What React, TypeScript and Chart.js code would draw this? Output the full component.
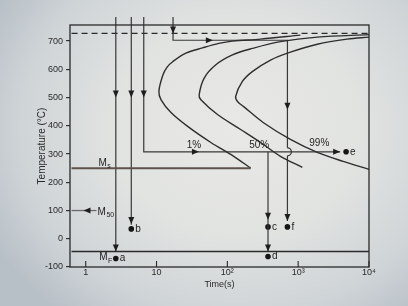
import React, { useEffect, useRef } from "react";
import { Chart, registerables } from "chart.js";

Chart.register(...registerables);

// ---- axis ranges & ticks ----
const X_MIN = 0.631;
const X_MAX = 10000;
const Y_MIN = -100;
const Y_MAX = 757;
const xTickValues = [1, 10, 100, 1000, 10000];
const xTickLabels = ["1", "10", "10²", "10³", "10⁴"];
const yTickValues = [-100, 0, 100, 200, 300, 400, 500, 600, 700];

// ---- transformation curves (time s, temperature °C) ----
const curve1Pct = [
  { x: 1074, y: 721 }, { x: 294, y: 707 }, { x: 118, y: 700 }, { x: 75.7, y: 692 },
  { x: 44.7, y: 676 }, { x: 26, y: 657 }, { x: 16.9, y: 627 }, { x: 14.1, y: 608 },
  { x: 12.3, y: 580 }, { x: 10.8, y: 522 }, { x: 11.6, y: 492 }, { x: 16, y: 447 },
  { x: 27.8, y: 397 }, { x: 58.5, y: 341 }, { x: 123, y: 292 }, { x: 213, y: 250 },
];
const curve50Pct = [
  { x: 10000, y: 723 }, { x: 1862, y: 714 }, { x: 562, y: 698 }, { x: 225, y: 674 },
  { x: 118, y: 651 }, { x: 68.8, y: 616 }, { x: 47.1, y: 569 }, { x: 40, y: 510 },
  { x: 42.3, y: 492 }, { x: 72.6, y: 440 }, { x: 154, y: 387 }, { x: 294, y: 341 },
  { x: 562, y: 292 }, { x: 1145, y: 253 },
];
const curve99Pct = [
  { x: 10000, y: 714 }, { x: 4910, y: 707 }, { x: 1862, y: 689 }, { x: 777, y: 661 },
  { x: 407, y: 633 }, { x: 225, y: 592 }, { x: 163, y: 557 }, { x: 131, y: 504 },
  { x: 140, y: 485 }, { x: 170, y: 468 }, { x: 324, y: 411 }, { x: 777, y: 352 },
  { x: 1862, y: 306 }, { x: 4315, y: 274 }, { x: 10000, y: 246 },
];

// ---- reference temperatures ----
const eutectoidTemp = 727;
const msTemp = 250;
const msEndTime = 213;
const mfTemp = -45;
const m50Temp = 100;
const m50EndTime = 1.42;

// ---- cooling paths ----
const pathA = [{ x: 2.66, y: 785 }, { x: 2.66, y: -45 }];
const pathB = [{ x: 4.4, y: 785 }, { x: 4.4, y: 50 }];
const pathE = [{ x: 6.6, y: 785 }, { x: 6.6, y: 308 }, { x: 3914, y: 308 }];
const pathCD = [{ x: 375, y: 308 }, { x: 375, y: -45 }];
const pathF = [
  { x: 17.1, y: 785 }, { x: 17.1, y: 703 }, { x: 705, y: 703 }, { x: 705, y: 322 },
  { x: 705, y: null }, { x: 705, y: 294 }, { x: 705, y: 63 },
];
const hops = [{ x: 705, y: 308 }];

const arrows = [
  { x: 2.66, y: 500, dir: "down" }, { x: 2.66, y: -45, dir: "down" },
  { x: 4.4, y: 500, dir: "down" }, { x: 4.4, y: 52, dir: "down" },
  { x: 6.6, y: 500, dir: "down" }, { x: 39.7, y: 308, dir: "right" },
  { x: 3914, y: 308, dir: "right" }, { x: 375, y: 67, dir: "down" },
  { x: 375, y: -45, dir: "down" }, { x: 17.1, y: 727, dir: "down" },
  { x: 62.4, y: 703, dir: "right" }, { x: 705, y: 457, dir: "down" },
  { x: 705, y: 63, dir: "down" }, { x: 0.93, y: 100, dir: "left" },
];

const endPoints = [
  { x: 2.66, y: -70, label: "a" }, { x: 4.4, y: 35, label: "b" },
  { x: 375, y: 42, label: "c" }, { x: 375, y: -63, label: "d" },
  { x: 4750, y: 308, label: "e" }, { x: 705, y: 42, label: "f" },
];

const curveLabels = [
  { x: 33.7, y: 332, text: "1%" },
  { x: 281, y: 332, text: "50%" },
  { x: 1985, y: 339, text: "99%" },
];

const mLabels = [
  { x: 1.51, y: 267, main: "M", sub: "s" },
  { x: 1.47, y: 95, main: "M", sub: "50" },
  { x: 1.55, y: -67, main: "M", sub: "F" },
];

const FONT = '"Liberation Sans", Arial, Helvetica, sans-serif';
const INK = "#2a2a2a";

const annotPlugin = {
  id: "annot",
  afterDatasetsDraw(chart: any) {
    const { ctx, chartArea, scales } = chart;
    const xs = scales.x;
    const ys = scales.y;
    ctx.save();
    // frame
    ctx.strokeStyle = INK;
    ctx.lineWidth = 1.3;
    ctx.strokeRect(chartArea.left, chartArea.top, chartArea.right - chartArea.left, chartArea.bottom - chartArea.top);
    // inward x ticks
    ctx.lineWidth = 1.1;
    ctx.beginPath();
    xTickValues.forEach((v) => {
      const px = xs.getPixelForValue(v);
      ctx.moveTo(px, chartArea.bottom);
      ctx.lineTo(px, chartArea.bottom - 6);
    });
    ctx.stroke();
    // hops
    ctx.strokeStyle = "#333";
    ctx.lineWidth = 1.2;
    hops.forEach((h) => {
      const px = xs.getPixelForValue(h.x);
      const py = ys.getPixelForValue(h.y);
      ctx.beginPath();
      ctx.arc(px, py, 4, -Math.PI / 2, Math.PI / 2, false);
      ctx.stroke();
    });
    // arrows
    ctx.fillStyle = "#1e1e1e";
    arrows.forEach((a) => {
      const px = xs.getPixelForValue(a.x);
      const py = ys.getPixelForValue(a.y);
      const L = 7, W = 3;
      ctx.beginPath();
      if (a.dir === "down") {
        ctx.moveTo(px, py); ctx.lineTo(px - W, py - L); ctx.lineTo(px + W, py - L);
      } else if (a.dir === "right") {
        ctx.moveTo(px, py); ctx.lineTo(px - L, py - W); ctx.lineTo(px - L, py + W);
      } else {
        ctx.moveTo(px, py); ctx.lineTo(px + L, py - W); ctx.lineTo(px + L, py + W);
      }
      ctx.closePath();
      ctx.fill();
    });
    // endpoint labels
    ctx.fillStyle = "#1e1e1e";
    ctx.font = `10px ${FONT}`;
    ctx.textBaseline = "middle";
    ctx.textAlign = "left";
    endPoints.forEach((p) => {
      ctx.fillText(p.label, xs.getPixelForValue(p.x) + 4, ys.getPixelForValue(p.y));
    });
    // curve labels
    ctx.textAlign = "center";
    ctx.font = `10px ${FONT}`;
    curveLabels.forEach((c) => {
      ctx.fillText(c.text, xs.getPixelForValue(c.x), ys.getPixelForValue(c.y));
    });
    // M labels with subscripts
    ctx.textAlign = "left";
    mLabels.forEach((m) => {
      const px = xs.getPixelForValue(m.x);
      const py = ys.getPixelForValue(m.y);
      ctx.font = `10px ${FONT}`;
      ctx.fillText(m.main, px, py);
      const w = ctx.measureText(m.main).width;
      ctx.font = `7px ${FONT}`;
      ctx.fillText(m.sub, px + w + 0.5, py + 3);
    });
    ctx.restore();
  },
};

function lineDs(data: any[], color: string, width: number, extra: any = {}) {
  return {
    data,
    showLine: true,
    borderColor: color,
    borderWidth: width,
    pointRadius: 0,
    pointHoverRadius: 0,
    fill: false,
    clip: false,
    spanGaps: false,
    ...extra,
  };
}

export default function App() {
  const ref = useRef<HTMLCanvasElement>(null);
  useEffect(() => {
    if (!ref.current) return;
    const chart = new Chart(ref.current, {
      type: "scatter",
      data: {
        datasets: [
          lineDs([{ x: X_MIN, y: eutectoidTemp }, { x: X_MAX, y: eutectoidTemp }], "#2a2a2a", 1.3, { borderDash: [6, 4] }),
          lineDs([{ x: X_MIN, y: msTemp }, { x: msEndTime, y: msTemp }], "#5e534c", 2),
          lineDs([{ x: X_MIN, y: mfTemp }, { x: X_MAX, y: mfTemp }], "#2a2a2a", 1.4),
          lineDs([{ x: X_MIN, y: m50Temp }, { x: m50EndTime, y: m50Temp }], "#6a6a6a", 1.3),
          lineDs(curve1Pct, "#2e2e2e", 1.4, { tension: 0.35 }),
          lineDs(curve50Pct, "#2e2e2e", 1.4, { tension: 0.35 }),
          lineDs(curve99Pct, "#2e2e2e", 1.4, { tension: 0.35 }),
          lineDs(pathA, "#383838", 1.2),
          lineDs(pathB, "#383838", 1.2),
          lineDs(pathE, "#383838", 1.2),
          lineDs(pathCD, "#383838", 1.2),
          lineDs(pathF, "#383838", 1.2),
          {
            data: endPoints.map((p) => ({ x: p.x, y: p.y })),
            showLine: false,
            pointRadius: 2.8,
            pointBackgroundColor: "#151515",
            pointBorderWidth: 0,
            clip: false,
          },
        ],
      },
      options: {
        responsive: false,
        animation: false,
        devicePixelRatio: 1,
        layout: { padding: { left: 0, right: 39, top: 25, bottom: 0 } },
        plugins: { legend: { display: false }, tooltip: { enabled: false } },
        scales: {
          x: {
            type: "logarithmic",
            min: X_MIN,
            max: X_MAX,
            afterBuildTicks: (s: any) => {
              s.ticks = xTickValues.map((v) => ({ value: v, major: true }));
            },
            afterFit: (s: any) => {
              s.height = 39;
            },
            grid: { display: false, drawTicks: false },
            border: { display: false },
            ticks: {
              autoSkip: false,
              maxRotation: 0,
              padding: 0,
              color: "#2a2a2a",
              font: { size: 9, family: FONT },
              callback: (v: any) => {
                const i = xTickValues.indexOf(Number(v));
                return i >= 0 ? xTickLabels[i] : "";
              },
            },
            title: {
              display: true,
              text: "Time(s)",
              color: "#2a2a2a",
              font: { size: 9, family: FONT },
              padding: { top: 0, bottom: 15.6 },
            },
          },
          y: {
            type: "linear",
            min: Y_MIN,
            max: Y_MAX,
            afterBuildTicks: (s: any) => {
              s.ticks = yTickValues.map((v) => ({ value: v }));
            },
            afterFit: (s: any) => {
              s.width = 70;
            },
            grid: { display: true, drawOnChartArea: false, drawTicks: true, tickLength: 4, color: "#333", lineWidth: 1.2 },
            border: { display: false },
            ticks: {
              padding: 3,
              color: "#2a2a2a",
              font: { size: 9, family: FONT },
              callback: (v: any) => String(v),
            },
            title: {
              display: true,
              text: "Temperature (°C)",
              color: "#2a2a2a",
              font: { size: 10, family: FONT },
              padding: { top: 36, bottom: 0 },
            },
          },
        },
      },
      plugins: [annotPlugin],
    } as any);
    return () => chart.destroy();
  }, []);

  return (
    <div
      style={{
        position: "fixed",
        left: 0,
        top: 0,
        width: 408,
        height: 306,
        background:
          "radial-gradient(ellipse 68% 78% at 58% 42%, #e8e9e6 0%, #e1e3e1 45%, #cfd4d7 78%, #b8c0c7 100%)",
      }}
    >
      <canvas ref={ref} width={408} height={306} style={{ display: "block" }} />
    </div>
  );
}
